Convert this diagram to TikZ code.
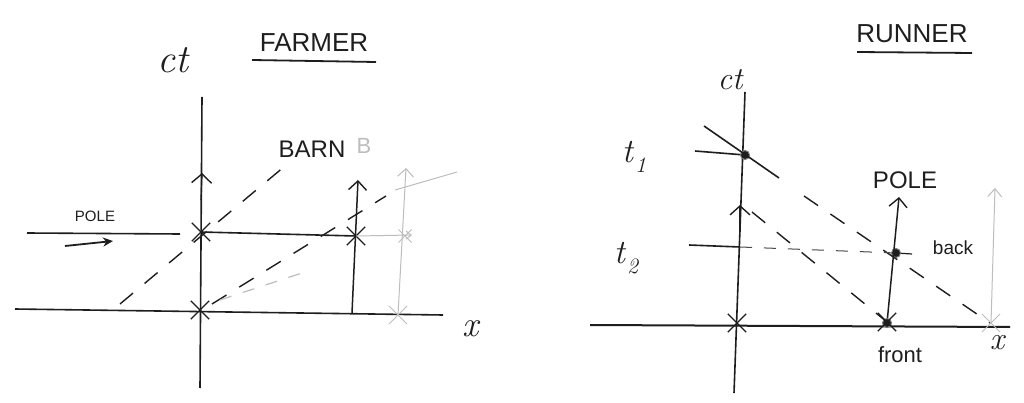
\documentclass[tikz,border=0pt]{standalone}
\usepackage{fontspec}
\newfontfamily\sansf{Liberation Sans}
\usetikzlibrary{arrows.meta,shapes.misc}
\definecolor{ink}{HTML}{1E1E1E}
\definecolor{faint}{HTML}{BDBDBD}
\newcommand{\tsub}[2]{\textit{#1}\kern1pt\raisebox{-0.3em}{\fontsize{22}{22}\selectfont\itshape #2}}
\tikzset{
  ax/.style={draw=ink,line width=1.6pt},
  wl/.style={draw=ink,line width=1.5pt,-{Straight Barb[length=9pt,width=18pt,line width=1.4pt]}},
  chev/.style={draw=ink,line width=1.4pt,-{Straight Barb[length=9pt,width=20pt,line width=1.4pt]}},
  dsh/.style={draw=ink,line width=1.4pt,dash pattern=on 17pt off 15pt},
  thindsh/.style={draw=ink!80,line width=1pt,dash pattern=on 12pt off 12pt},
  fdsh/.style={draw=faint,line width=1.2pt,dash pattern=on 12pt off 12pt},
  fl/.style={draw=faint,line width=1pt},
  evt/.style={draw=ink,cross out,line width=1.3pt,minimum size=17pt,inner sep=0pt},
  fevt/.style={draw=faint,cross out,line width=1pt,minimum size=17pt,inner sep=0pt},
  dotn/.style={circle,fill=ink,draw=ink!60,line width=1pt,minimum size=9pt,inner sep=0pt},
  lbl/.style={text=ink,inner sep=0pt},
  title/.style={text=ink,inner sep=0pt,font=\sansf\fontsize{26}{28}\selectfont},
}
\begin{document}
\begin{tikzpicture}[x=1pt,y=-1pt]
\useasboundingbox (0,0) rectangle (1024,403);
\fill[white] (0,0) rectangle (1024,403);

%================ FARMER =================
\node[title] (farmer) at (314,43) {FARMER};
\coordinate (fU1) at (252,60); \coordinate (fU2) at (376,62);
\draw[ink,line width=1.8pt] (fU1) -- (fU2);

\node[lbl,font=\fontsize{40}{40}\selectfont\itshape] (ctL) at (173,60) {ct};

% axes
\coordinate (LaxT) at (202,97); \coordinate (LaxB) at (200,388);
\coordinate (LxL) at (15,309); \coordinate (LxR) at (443,315);
\draw[ax] (LaxT) -- (LaxB);
\draw[ax] (LxL) -- (LxR);
\node[lbl,font=\fontsize{36}{36}\selectfont\itshape] (xL) at (471,329) {x};

% events
\node[evt] (LO) at (200,310) {};
\node[evt] (LP) at (201,232) {};
\node[evt] (LB) at (356,236) {};

% chevron on left axis
\coordinate (LchB) at (201,200); \coordinate (LchT) at (202,173);
\draw[chev] (LchB) -- (LchT);

% pole
\node[lbl,font=\sansf\fontsize{15}{15}\selectfont] (poleL) at (95,216) {POLE};
\coordinate (LpA) at (27,233); \coordinate (LpB) at (180,234);
\draw[ax] (LpA) -- (LpB);
\draw[ax] (LP.center) -- (LB.center);
\coordinate (LarA) at (65,246); \coordinate (LarB) at (113,241);
\draw[ink,line width=1.8pt,-{Stealth[length=10pt,width=9pt]}] (LarA) -- (LarB);

% barn
\node[lbl,font=\sansf\fontsize{24}{24}\selectfont] (barn) at (312,149) {BARN};
\node[text=faint,inner sep=0pt,font=\sansf\fontsize{22}{22}\selectfont] (barnB) at (364,146) {B};
\coordinate (LbB) at (352,313); \coordinate (LbT) at (358,180);
\draw[wl] (LbB) -- (LbT);

% dashed light lines
\coordinate (Ld1a) at (120,304); \coordinate (Ld1b) at (285,166);
\draw[dsh] (Ld1a) -- (Ld1b);
\coordinate (Ld2a) at (212,304); \coordinate (Ld2b) at (386,196);
\draw[dsh] (Ld2a) -- (Ld2b);
\coordinate (Ld3a) at (220,300); \coordinate (Ld3b) at (302,273);
\draw[fdsh] (Ld3a) -- (Ld3b);

% faint pencil marks
\node[fevt] (LfX) at (398,315) {};
\coordinate (LfT) at (406,168);
\draw[fl,-{Straight Barb[length=8pt,width=16pt]}] (LfX.center) -- (LfT);
\coordinate (LfH) at (412,235);
\draw[fl,-{Straight Barb[length=5pt,width=8pt]}] (LB.center) -- (LfH);
\node[fevt,minimum size=12pt] (LfX2) at (405,236) {};
\coordinate (Lfd1) at (395,190); \coordinate (Lfd2) at (457,172);
\draw[fl] (Lfd1) -- (Lfd2);

%================ RUNNER =================
\node[title] (runner) at (912,34) {RUNNER};
\coordinate (rU1) at (857,52); \coordinate (rU2) at (972,53);
\draw[ink,line width=1.8pt] (rU1) -- (rU2);

\node[lbl,font=\fontsize{32}{32}\selectfont\itshape] (ctR) at (730,80) {ct};

\coordinate (RaxT) at (745,92); \coordinate (RaxB) at (734,393);
\coordinate (RxL) at (590,325); \coordinate (RxR) at (1010,327);
\draw[ax] (RaxT) -- (RaxB);
\draw[ax,line width=2pt] (RxL) -- (RxR);
\node[lbl,font=\fontsize{32}{32}\selectfont\itshape] (xR) at (997,343) {x};

\node[evt] (RO) at (737,323) {};

% t1
\node[lbl,font=\fontsize{34}{34}\selectfont] (t1) at (634,157) {\tsub{t}{1}};
\node[dotn] (T1) at (745,155) {};
\coordinate (t1tick) at (695,151);
\draw[ax] (t1tick) -- (T1);
\coordinate (T1a) at (704,126); \coordinate (T1b) at (779,178);
\draw[ax] (T1a) -- (T1b);

% t2
\node[lbl,font=\fontsize{34}{34}\selectfont] (t2) at (626,258) {\tsub{t}{2}};
\coordinate (t2tick) at (689,245); \coordinate (t2ax) at (740,247);
\draw[ax] (t2tick) -- (t2ax);

% chevron on right axis
\coordinate (RchB) at (740,232); \coordinate (RchT) at (740,205);
\draw[chev] (RchB) -- (RchT);

% pole
\node[dotn] (front) at (887,323) {};
\node[evt] (frontX) at (887,322) {};
\node[dotn] (back) at (896,253) {};
\coordinate (RpT) at (899,197);
\draw[wl] (front) -- (RpT);
\node[lbl,font=\sansf\fontsize{24}{24}\selectfont] (poleR) at (905,180) {POLE};
\node[lbl,font=\sansf\fontsize{19}{19}\selectfont] (backL) at (953,248) {back};
\node[lbl,font=\sansf\fontsize{22}{22}\selectfont] (frontL) at (900,355) {front};

% dashed lines
\coordinate (Rd1a) at (804,196); \coordinate (Rd1b) at (990,323);
\draw[dsh] (Rd1a) -- (Rd1b);
\coordinate (Rd2a) at (752,212);
\draw[dsh] (Rd2a) -- (frontX.center);
\draw[thindsh] (t2ax) -- (back);
\coordinate (backR) at (912,254);
\draw[ink,line width=1.2pt] (back) -- (backR);

% faint
\node[fevt] (RfX) at (991,323) {};
\coordinate (RfT) at (995,188);
\draw[fl,-{Straight Barb[length=8pt,width=14pt]}] (RfX.center) -- (RfT);

\end{tikzpicture}
\end{document}
